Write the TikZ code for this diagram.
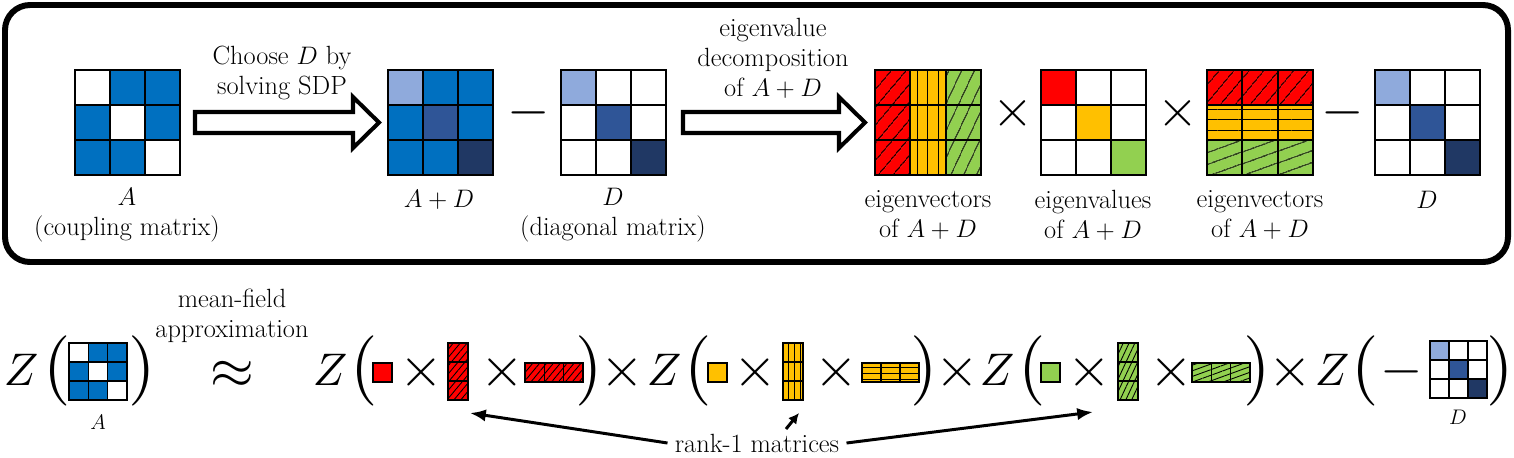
\documentclass[tikz,border=0pt]{standalone}
\usepackage{fontspec}
\usepackage{graphicx}
\usetikzlibrary{patterns.meta,arrows.meta}
\definecolor{bA}{RGB}{0,112,192}
\definecolor{bL}{RGB}{143,170,220}
\definecolor{bM}{RGB}{47,85,151}
\definecolor{bD}{RGB}{32,56,100}
\definecolor{cR}{RGB}{255,0,0}
\definecolor{cO}{RGB}{255,192,0}
\definecolor{cG}{RGB}{146,208,80}
\newcommand\ft{\fontsize{15}{17}\selectfont}
\newcommand\GL[2]{\scalebox{\fpeval{#1/10}}{\fontsize{10}{10}\selectfont$#2$}}
\def\hdD{6.5pt}\def\hdV{6pt}\def\hw{0.7pt}
\tikzset{
 c w/.style={fill=white}, c b/.style={fill=bA}, c l/.style={fill=bL},
 c m/.style={fill=bM}, c d/.style={fill=bD},
 c r/.style={fill=cR}, c o/.style={fill=cO}, c g/.style={fill=cG},
 c R/.style={preaction={fill=cR},pattern={Lines[angle=50,distance=\hdD,line width=\hw]}},
 c O/.style={preaction={fill=cO},pattern={Lines[angle=90,distance=\hdV,line width=\hw]}},
 c H/.style={preaction={fill=cO},pattern={Lines[angle=0,distance=\hdV,line width=\hw]}},
 c G/.style={preaction={fill=cG},pattern={Lines[angle=65,distance=\hdD,line width=\hw]}},
 c S/.style={preaction={fill=cG},pattern={Lines[angle=20,distance=\hdD,line width=\hw]}},
 glyph/.style={inner sep=0pt},
 lbl/.style={align=center,inner sep=0pt,font=\ft},
 blk/.style={line width=2.3pt,line join=miter,fill=white},
 rk/.style={line width=1.7pt,-{Latex[length=9pt,width=7pt]}},
}
% #1 x, #2 y, #3 cell w, #4 cell h, #5 cols, #6 line width, #7 list
\newcommand\mymat[7]{%
 \begin{scope}[shift={(#1,#2)}]
  \foreach \s [count=\i from 0] in {#7} {
    \pgfmathtruncatemacro\cc{mod(\i,#5)}
    \pgfmathtruncatemacro\rr{floor(\i/#5)}
    \path[c \s] ({\cc*#3},{\rr*#4}) rectangle ++(#3,#4);
  }
  \foreach \s [count=\i from 0] in {#7} {
    \pgfmathtruncatemacro\cc{mod(\i,#5)}
    \pgfmathtruncatemacro\rr{floor(\i/#5)}
    \draw[line width=#6] ({\cc*#3},{\rr*#4}) rectangle ++(#3,#4);
  }
 \end{scope}}
\begin{document}
\begin{tikzpicture}[x=0.02cm,y=-0.02cm]
\useasboundingbox (0,0) rectangle (1514,457);
\draw[line width=3.4pt,rounded corners=0.5cm] (5,5) rectangle (1508,262);
% top matrices
\mymat{75}{70}{35}{35}{3}{1.1pt}{w,b,b,b,w,b,b,b,w}
\mymat{388}{70}{35}{35}{3}{1.1pt}{l,b,b,b,m,b,b,b,d}
\mymat{561}{70}{35}{35}{3}{1.1pt}{l,w,w,w,m,w,w,w,d}
\mymat{875}{70}{35.3}{35}{3}{1.1pt}{R,O,G,R,O,G,R,O,G}
\mymat{1041}{70}{35}{35}{3}{1.1pt}{r,w,w,w,o,w,w,w,g}
\mymat{1207}{70}{35.3}{35}{3}{1.1pt}{R,R,R,H,H,H,S,S,S}
\mymat{1375}{70}{35}{35}{3}{1.1pt}{l,w,w,w,m,w,w,w,d}
% block arrows
\draw[blk] (195,112) -- (353,112) -- (353,97) -- (379,122.5) -- (353,148) -- (353,133) -- (195,133) -- cycle;
\draw[blk] (683,112) -- (839,112) -- (839,97) -- (865,122.5) -- (839,148) -- (839,133) -- (683,133) -- cycle;
\node[lbl] (t1) at (282,73) {Choose $D$ by\\solving SDP};
\node[lbl] (t2) at (773,58) {eigenvalue\\decomposition\\of $A+D$};
\node[glyph] (m1) at (529,113) {\GL{31}{-}};
\node[glyph] (x1) at (1013,113) {\GL{30}{\times}};
\node[glyph] (x2) at (1178,113) {\GL{30}{\times}};
\node[glyph] (m2) at (1343,113) {\GL{31}{-}};
\node[lbl] (l1) at (127,215) {$A$\\(coupling matrix)};
\node[lbl] (l2) at (439,200) {$A+D$};
\node[lbl] (l3) at (613,215) {$D$\\(diagonal matrix)};
\node[lbl] (l4) at (928,215) {eigenvectors\\of $A+D$};
\node[lbl] (l5) at (1093,215) {eigenvalues\\of $A+D$};
\node[lbl] (l6) at (1260,215) {eigenvectors\\of $A+D$};
\node[lbl] (l7) at (1427,200) {$D$};
% bottom
\def\hdD{3pt}\def\hdV{3.4pt}\def\hw{0.5pt}
\node[glyph] (z1) at (21,370) {\GL{26}{Z}};
\node[glyph] (p1) at (57,371) {\GL{40}{(}};
\mymat{69}{343}{19.3}{19}{3}{0.9pt}{w,b,b,b,w,b,b,b,w}
\node[glyph] (q1) at (142,371) {\GL{40}{)}};
\node[inner sep=0pt,font=\fontsize{12}{12}\selectfont] (la) at (98,422) {$A$};
\node[lbl] (mf) at (232,316) {mean-field\\approximation};
\node[glyph] (ap) at (232,375) {\GL{32}{\approx}};
% group 1
\node[glyph] (z2) at (330,370) {\GL{26}{Z}};
\node[glyph] (p2) at (364,371) {\GL{40}{(}};
\mymat{373}{363}{19}{19}{1}{0.8pt}{r}
\node[glyph] at (421,372) {\GL{32}{\times}};
\mymat{448}{343}{20}{19}{1}{0.8pt}{R,R,R}
\node[glyph] at (502,372) {\GL{32}{\times}};
\mymat{525}{363}{19.3}{19}{3}{0.8pt}{R,R,R}
\node[glyph] (q2) at (589,371) {\GL{40}{)}};
\node[glyph] at (622,372) {\GL{32}{\times}};
% group 2
\node[glyph] (z3) at (664,370) {\GL{26}{Z}};
\node[glyph] (p3) at (698,371) {\GL{40}{(}};
\mymat{708}{363}{19}{19}{1}{0.8pt}{o}
\node[glyph] at (755,372) {\GL{32}{\times}};
\mymat{783}{343}{20}{19}{1}{0.8pt}{O,O,O}
\node[glyph] at (836,372) {\GL{32}{\times}};
\mymat{862}{363}{19}{19}{3}{0.8pt}{H,H,H}
\node[glyph] (q3) at (924,371) {\GL{40}{)}};
\node[glyph] at (957,372) {\GL{32}{\times}};
% group 3
\node[glyph] (z4) at (997,370) {\GL{26}{Z}};
\node[glyph] (p4) at (1032,371) {\GL{40}{(}};
\mymat{1041}{363}{19}{19}{1}{0.8pt}{g}
\node[glyph] at (1089,372) {\GL{32}{\times}};
\mymat{1118}{343}{20}{19}{1}{0.8pt}{G,G,G}
\node[glyph] at (1171,372) {\GL{32}{\times}};
\mymat{1192}{363}{19.3}{19}{3}{0.8pt}{S,S,S}
\node[glyph] (q4) at (1257,371) {\GL{40}{)}};
\node[glyph] at (1290,372) {\GL{32}{\times}};
% group 4
\node[glyph] (z5) at (1332,370) {\GL{26}{Z}};
\node[glyph] (p5) at (1365,371) {\GL{40}{(}};
\node[glyph] (m3) at (1402,372) {\GL{31}{-}};
\mymat{1430}{341}{19}{19}{3}{0.9pt}{l,w,w,w,m,w,w,w,d}
\node[glyph] (q5) at (1500,371) {\GL{40}{)}};
\node[inner sep=0pt,font=\fontsize{12}{12}\selectfont] (ld) at (1458,417) {$D$};
% rank-1
\node[lbl] (rk) at (757,443) {rank-1 matrices};
\coordinate (e1) at (470,413);
\coordinate (e2) at (799,413);
\coordinate (s2) at (786,429);
\coordinate (e3) at (1093,412);
\draw[rk] ([xshift=-4pt]rk.west) -- (e1);
\draw[rk] ([xshift=4pt]rk.east) -- (e3);
\draw[rk,-{Latex[length=6pt,width=6pt]}] (s2) -- (e2);
\end{tikzpicture}
\end{document}
